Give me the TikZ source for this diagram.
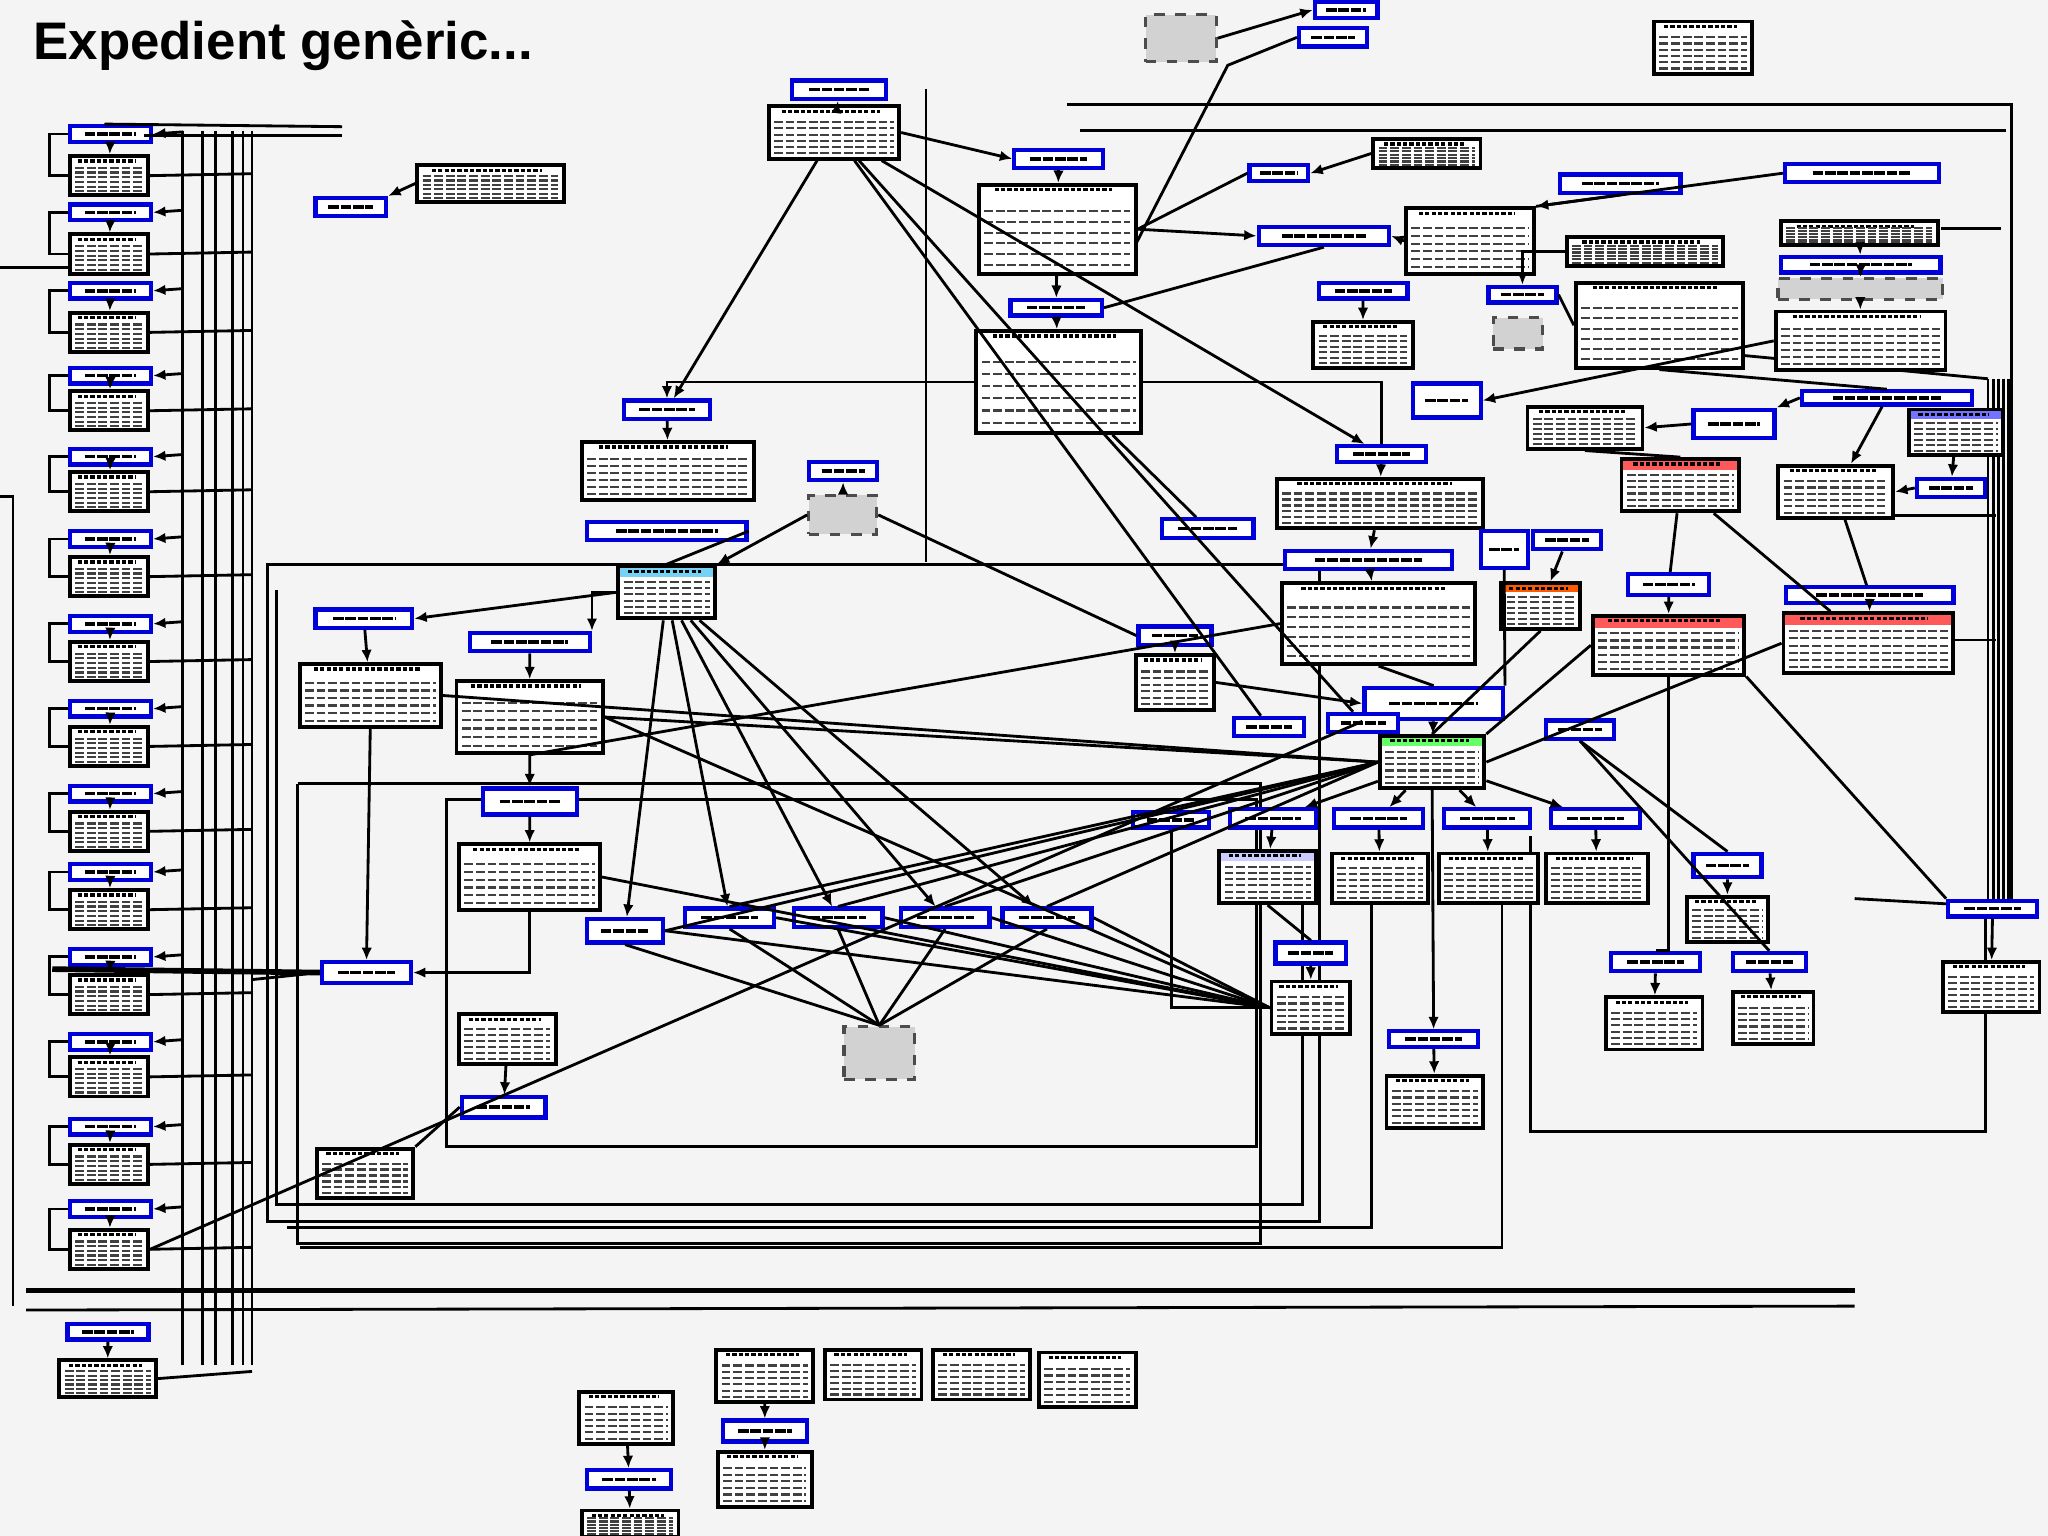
\documentclass[tikz,border=0pt]{standalone}
\usepackage{fontspec}
\setmainfont{Liberation Sans}
\usetikzlibrary{calc,arrows.meta}
\tikzset{
 hdr/.store in=\hdrcol, hdr=white,
 rows/.style={path picture={
   \fill[\hdrcol] (path picture bounding box.north west) rectangle ($(path picture bounding box.north east)!0.2!(path picture bounding box.south east)$);
   \draw[black,line width=0.9pt,dash pattern=on 1.2pt off 0.6pt] ($(path picture bounding box.north west)!0.1!(path picture bounding box.north east)+(0,-1.4pt)$) -- ($(path picture bounding box.north west)!0.85!(path picture bounding box.north east)+(0,-1.4pt)$);
   \foreach \t in {0.3,0.42,0.54,0.66,0.78,0.9}{
   \draw[black!75,line width=0.6pt,dash pattern=on 2.5pt off 0.8pt] ($(path picture bounding box.north west)!\t!(path picture bounding box.south west)+(1.5pt,0)$) -- ($(path picture bounding box.north east)!\t!(path picture bounding box.south east)+(-1.5pt,0)$);}}},
 tb/.style={draw,line width=1.1pt,fill=white,anchor=north west,inner sep=0pt,rows},
 bl/.style={draw=blue!85!black,line width=1.2pt,fill=white,anchor=north west,inner sep=0pt,path picture={
   \draw[black,line width=1pt,dash pattern=on 3pt off 0.5pt] ($(path picture bounding box.west)!0.18!(path picture bounding box.east)$) -- ($(path picture bounding box.west)!0.82!(path picture bounding box.east)$);}},
 gd/.style={draw=gray!60!black,dashed,line width=0.9pt,fill=gray!35,anchor=north west,inner sep=0pt},
 c/.style={line width=0.8pt},
 a/.style={line width=0.8pt,-{Latex[length=3.5pt,width=3pt]}},
}
\newcommand\T[6][]{\node[tb,#1,minimum width=#5*0.3706pt,minimum height=#6*0.3706pt] (#2) at (#3,#4) {};}
\newcommand\B[5]{\node[bl,minimum width=#4*0.3706pt,minimum height=#5*0.3706pt] (#1) at (#2,#3) {};}
\newcommand\G[5]{\node[gd,minimum width=#4*0.3706pt,minimum height=#5*0.3706pt] (#1) at (#2,#3) {};}
\begin{document}
\begin{tikzpicture}[x=0.3706pt,y=-0.3706pt]
\fill[gray!9] (0,0) rectangle (1568,1176);
\useasboundingbox (0,0) rectangle (1568,1176);
\node[anchor=west,font=\fontsize{15}{17}\selectfont\bfseries] (title) at (16,35) {Expedient genèric...};
% left column buses and frames (drawn first)
\foreach \xx in {140,155,165,178,186,193}{\draw[c] (\xx,100) -- (\xx,1045);}
\draw[line width=1.4pt] (20,988) -- (1420,988);
\draw[c] (10,1000) -- (10,380) -- (0,380);
\draw[c] (20,1003) -- (1420,1000);
\draw[c] (0,205) -- (52,205);
\draw[c] (205,432) rectangle (1010,935);
\draw[c] (228,600) -| (965,952) -| (228,600);
\draw[c] (342,612) rectangle (962,878);
\draw[c] (212,452) -- (212,922) -- (997,922) -- (997,650);
\draw[c] (1172,640) -- (1172,866) -- (1520,866) -- (1520,690);
\draw[c] (1150,690) -- (1150,955) -- (230,955);
\draw[c] (1050,690) -- (1050,940) -- (220,940);
\foreach \xx in {1522,1526,1530,1534,1538}{\draw[c] (\xx,290) -- (\xx,688);}
\draw[c] (1420,688) -- (1490,692);
\draw[c] (1333,272) -- (1522,290);
\draw[c] (817,80) -- (1540,80) -- (1540,688);
\draw[c] (827,100) -- (1536,100);
\draw[c] (1486,175) -- (1532,175);
\draw[c] (1448,395) -- (1528,395);
\draw[c] (1494,490) -- (1528,490);
\draw[c] (709,68) -- (709,430);
% left column
\foreach \yy/\ty [count=\i] in {95/118,155/178,215/238,280/298,342/360,405/425,470/490,535/555,600/620,660/680,725/745,790/808,855/875,918/940}{
  \B{lb\i}{52}{\yy}{62}{12}
  \T{lt\i}{52}{\ty}{60}{30}
  \draw[a] (lb\i) -- (lt\i);
  \draw[c] (lt\i.east) -- (193,\ty+15);
  \draw[a] (140,\yy+6) -- (lb\i.east);
  \draw[c] (lt\i.west) -- ++(-14,0) |- (lb\i.west);
}
\B{lb15}{50}{1012}{62}{12}
\T{lt15}{44}{1040}{74}{28}
\draw[a] (lb15) -- (lt15);
\draw[c] (lt15.east) -- (193,1050);
\draw[c] (80,95) -- (262,97);
\draw[c] (110,104) -- (262,104);
% top region
\B{b1}{605}{60}{72}{14}
\T{t1}{587}{80}{100}{40}
\draw[a] (t1) -- (b1);
\T{t2}{318}{125}{112}{28}
\B{b2}{240}{150}{54}{14}
\draw[a] (t2.west) -- (b2.north east);
\G{g1}{876}{10}{54}{36}
\B{b3}{1005}{0}{48}{12}
\B{b4}{993}{20}{52}{14}
\draw[a] (g1.east) -- (b3.west);
\draw[c] (b4.west) -- (940,50) -- (868,190);
\T{t3}{1265}{15}{75}{40}
\T{t4}{1050}{105}{82}{22}
\B{b5}{775}{113}{68}{14}
\B{b6}{955}{125}{45}{12}
\draw[a] (t4.west) -- (b6.east);
\draw[a] (t1.east) -- (b5.west);
\T{t5}{748}{140}{120}{68}
\draw[a] (b5) -- (t5);
\draw[c] (t5.east) -- (b6.west);
\B{b7}{1193}{132}{92}{14}
\B{b8}{1365}{124}{118}{14}
\T{t6}{1075}{158}{98}{50}
\draw[a] (b8.west) -- (t6.north east);
\draw[c] (b7.south) -- (t6.north east);
\B{b9}{962}{172}{100}{14}
\draw[a] (t5.east) -- (b9.west);
\draw[a] (t6.west) -- (b9.east);
\T{t7}{1198}{180}{120}{22}
\T{t8}{1362}{168}{120}{18}
\B{b10}{1362}{195}{122}{12}
\G{g2}{1360}{212}{126}{16}
\T{t9}{1358}{237}{130}{45}
\draw[a] (t8) -- (b10);
\draw[a] (b10) -- (g2);
\draw[a] (g2) -- (t9);
\B{b11}{1008}{215}{68}{12}
\T{t10}{1004}{245}{76}{35}
\draw[a] (b11) -- (t10);
\B{b12}{1138}{218}{52}{12}
\G{g3}{1142}{242}{38}{24}
\T{t11}{1205}{215}{128}{65}
\draw[a] (t7.west) -| (b12.north);
\draw[c] (t11.west) -- (b12.east);
\B{b13}{772}{228}{70}{12}
\T{t12}{746}{252}{126}{78}
\draw[a] (t5) -- (b13);
\draw[a] (b13) -- (t12);
\draw[c] (b13.east) -- (b9.south);
\B{b14}{476}{305}{66}{14}
\T{t13}{444}{337}{132}{44}
\draw[a] (t1) -- (b14);
\draw[a] (b14) -- (t13);
\draw[a] (t12.west) -| (b14.north);
\B{b15}{1080}{292}{52}{26}
\T{t14}{1168}{310}{88}{32}
\B{b16}{1295}{312}{62}{22}
\B{b17}{1378}{298}{130}{10}
\T[hdr=blue!55]{t15}{1460}{312}{72}{35}
\draw[a] (t9.west) -- (b15.east);
\draw[a] (b16.west) -- (t14.east);
\draw[a] (b17.west) -- (b16.north east);
\draw[c] (t11.south) -- (b17.north);
\B{b18}{1022}{340}{68}{12}
\T{t16}{976}{365}{158}{38}
\draw[a] (b18) -- (t16);
\draw[a] (t1) -- (b18);
\draw[c] (t12.east) -| (b18.north);
\T[hdr=red!65]{t17}{1240}{350}{90}{40}
\T{t18}{1360}{355}{88}{40}
\draw[a] (b17) -- (t18);
\draw[c] (t14.south) -- (t17.north);
\G{g4}{618}{378}{52}{30}
\B{b19}{618}{352}{52}{14}
\draw[a] (g4) -- (b19);
\B{b20}{1466}{365}{52}{14}
\draw[a] (t15) -- (b20);
\draw[a] (b20.west) -- (t18.east);
\B{b21}{448}{398}{122}{14}
\B{b22}{888}{396}{70}{14}
\B{b23}{982}{420}{128}{14}
\B{b24}{1132}{405}{36}{28}
\B{b25}{1172}{405}{52}{14}
\T[hdr=cyan!55]{cy}{472}{432}{74}{40}
\draw[c] (b21.east) -- (cy.north);
\draw[a] (g4.west) -- (cy.north east);
\T[hdr=orange!70!red]{t19}{1148}{445}{60}{35}
\draw[a] (b25) -- (t19);
\B{b26}{1245}{438}{62}{16}
\T{t20}{980}{445}{148}{62}
\draw[a] (b23) -- (t20);
\draw[a] (t16) -- (b23);
\draw[c] (t12) -- (b22);
\B{b27}{1366}{448}{128}{12}
\draw[c] (t18) -- (b27);
\draw[c] (t17) -- (b26);
\B{b28}{240}{465}{74}{14}
\B{b29}{358}{483}{92}{14}
\draw[a] (cy.west) -- (b28.east);
\draw[a] (cy.west) -| (b29.north east);
\T[hdr=red!65]{t21}{1218}{470}{116}{45}
\T[hdr=red!65]{t22}{1364}{468}{130}{46}
\draw[a] (b26) -- (t21);
\draw[a] (b27) -- (t22);
\draw[c] (t17) -- (t22);
\B{b30}{870}{478}{56}{14}
\T{t23}{868}{500}{60}{42}
\draw[a] (b30) -- (t23);
\draw[c] (g4.east) -- (b30.west);
\T{t24}{228}{507}{108}{48}
\T{t25}{348}{520}{112}{55}
\draw[a] (b28) -- (t24);
\draw[a] (b29) -- (t25);
\B{b31}{1043}{525}{106}{24}
\B{b32}{943}{548}{54}{14}
\B{b33}{1015}{545}{54}{14}
\B{b34}{1182}{550}{52}{14}
\T[hdr=green!60]{gr}{1055}{562}{80}{40}
\draw[a] (b31) -- (gr);
\draw[a] (t23.east) -- (b31.west);
\draw[c] (t20.south) -- (b31.north);
\draw[c] (t21.west) -- (gr.north east);
\draw[c] (t22.west) -- (gr.east);
\draw[c] (t19.south) -- (gr.north);
\draw[c] (t25.east) -- (gr.west);
\draw[c] (t24.east) -- (gr.west);
\draw[c] (t20.west) -- (t25.south);
\draw[c] (b24.south) -- (b31.north east);
\draw[c] (t1) -- (b33);
\draw[c] (t1) -- (b32);
\B{b35}{368}{602}{72}{20}
\draw[a] (t25) -- (b35);
\foreach \n/\xx/\ww in {b36/940/66,b37/1020/68,b38/1104/66,b39/1186/68}{\B{\n}{\xx}{618}{\ww}{14}\draw[a] (gr) -- (\n);}
\B{b40}{866}{620}{58}{12}
\T{t26}{350}{645}{108}{50}
\draw[a] (b35) -- (t26);
\T[hdr=blue!20]{t27}{932}{650}{74}{40}
\T{t28}{1018}{652}{74}{38}
\T{t29}{1100}{652}{76}{38}
\T{t30}{1182}{652}{78}{38}
\draw[a] (b36) -- (t27);\draw[a] (b37) -- (t28);\draw[a] (b38) -- (t29);\draw[a] (b39) -- (t30);
\B{b41}{1295}{652}{52}{18}
\T{t31}{1290}{685}{62}{35}
\draw[a] (b41) -- (t31);
\draw[c] (b34.south) -- (b41.north);
\B{b42}{1490}{688}{68}{12}
\T{t32}{1486}{735}{74}{38}
\draw[a] (b42) -- (t32);
\draw[c] (t21.south east) -- (b42.north west);
\B{b43}{448}{702}{58}{18}
\foreach \n/\xx in {b44/523,b45/606,b46/688,b47/766}{\B{\n}{\xx}{694}{68}{14}}
\G{g5}{645}{785}{54}{40}
\foreach \n in {b43,b44,b45,b46,b47}{\draw[a] (cy) -- (\n); \draw[c] (\n.south) -- (g5.north);}
\draw[c] (b43.east) -- (gr.west);
\draw[c] (b44.north) -- (gr.west);
\draw[c] (b45.north) -- (gr.west);
\draw[c] (b46.north) -- (gr.west);
\draw[c] (b47.north) -- (gr.west);
\B{b48}{975}{720}{54}{16}
\T{t33}{972}{750}{60}{40}
\draw[a] (b48) -- (t33);
\draw[c] (t27.south) -- (b48.north);
\draw[c] (b40.south) |- (t33.west);
\foreach \n in {b43,b44,b45,b46,b47,t25,t26}{\draw[c] (\n.east) -- (t33.west);}
\B{b49}{245}{735}{68}{16}
\draw[a] (t24.south) -- (b49.north);
\draw[a] (t26.south) |- (b49.east);
\draw[line width=1.6pt] (b49.west) -- (40,742);
\draw[c] (b49.west) -- (193,750);
\B{b50}{1232}{728}{68}{14}
\B{b51}{1325}{728}{56}{14}
\T{t34}{1228}{762}{74}{40}
\T{t35}{1325}{758}{62}{40}
\draw[a] (b50) -- (t34);\draw[a] (b51) -- (t35);
\draw[c] (t21.south) |- (b50.north);
\draw[c] (b34.south) -- (b51.north);
\T{t36}{350}{775}{74}{38}
\B{b52}{1062}{788}{68}{12}
\T{t37}{1060}{822}{74}{40}
\draw[a] (b52) -- (t37);
\draw[a] (gr.south) -- (b52.north);
\B{b53}{352}{838}{64}{16}
\draw[a] (t36) -- (b53);
\T{t38}{241}{878}{74}{38}
\draw[c] (b53.west) -- (t38.north east);
\draw[c] (lt14.east) -- (b31.south west);
% bottom
\T{t39}{547}{1032}{74}{40}
\T{t40}{630}{1032}{74}{38}
\T{t41}{713}{1032}{74}{38}
\T{t42}{794}{1034}{74}{42}
\T{t43}{442}{1064}{72}{40}
\B{b54}{552}{1086}{64}{16}
\T{t44}{548}{1110}{72}{42}
\B{b55}{448}{1124}{64}{14}
\T{t45}{444}{1155}{74}{20}
\draw[a] (t39) -- (b54);\draw[a] (b54) -- (t44);
\draw[a] (t43) -- (b55);\draw[a] (b55) -- (t45);
\end{tikzpicture}
\end{document}
